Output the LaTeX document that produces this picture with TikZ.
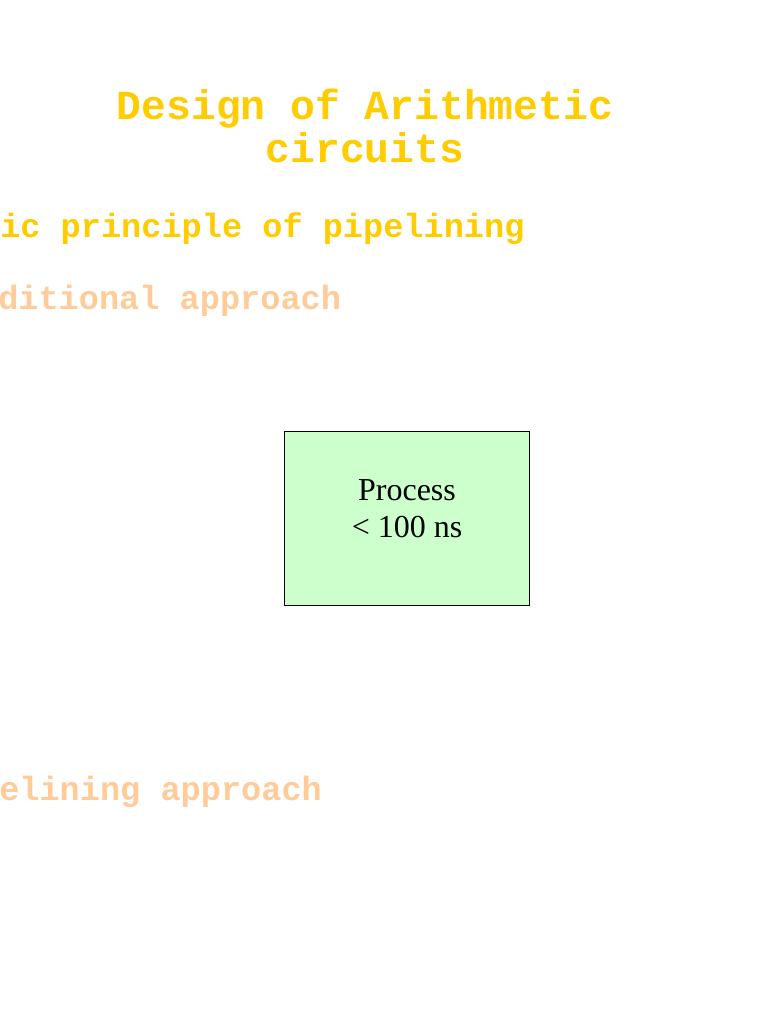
\documentclass[tikz,border=0pt]{standalone}
\usepackage{fontspec}
\setmainfont{Liberation Serif}
\setmonofont{Liberation Mono}
\usepackage{tikz}

\definecolor{titlegold}{HTML}{FFCC00}
\definecolor{paleorange}{HTML}{FFCC99}
\definecolor{procgreen}{HTML}{CCFFCC}

\begin{document}
\begin{tikzpicture}[x=0.75pt,y=-0.75pt,
    title_text/.style={text=titlegold,font=\ttfamily\bfseries\fontsize{31}{32}\selectfont,inner sep=0pt,anchor=base},
    head_text/.style={text=titlegold,font=\ttfamily\bfseries\fontsize{25.2}{27}\selectfont,inner sep=0pt,anchor=base west},
    sub_text/.style={text=paleorange,font=\ttfamily\bfseries\fontsize{25.2}{27}\selectfont,inner sep=0pt,anchor=base west},
    proc_box/.style={draw=black,line width=0.75pt,fill=procgreen,minimum width=183.75pt,minimum height=130.5pt,inner sep=0pt},
    proc_text/.style={font=\fontsize{24}{27.75}\selectfont,align=center,inner sep=0pt}]
    \useasboundingbox (0,0) rectangle (768,1024);

    \node[title_text] (title1) at (365,119) {Design of Arithmetic};
    \node[title_text] (title2) at (365,162) {circuits};

    \node[head_text] (principle) at (0,237) {ic principle of pipelining};
    \node[sub_text] (traditional) at (-2,309) {ditional approach};
    %\node[sub_text] (pipelining) at (-2,791) {pipelining approach};
    \node[sub_text] (pipelining) at (-1,800) {elining approach};

    \node[proc_box] (proc) at (406.5,518) {};
    \node[proc_text] (proclabel) at (407,509) {Process\\< 100 ns};
\end{tikzpicture}
\end{document}
